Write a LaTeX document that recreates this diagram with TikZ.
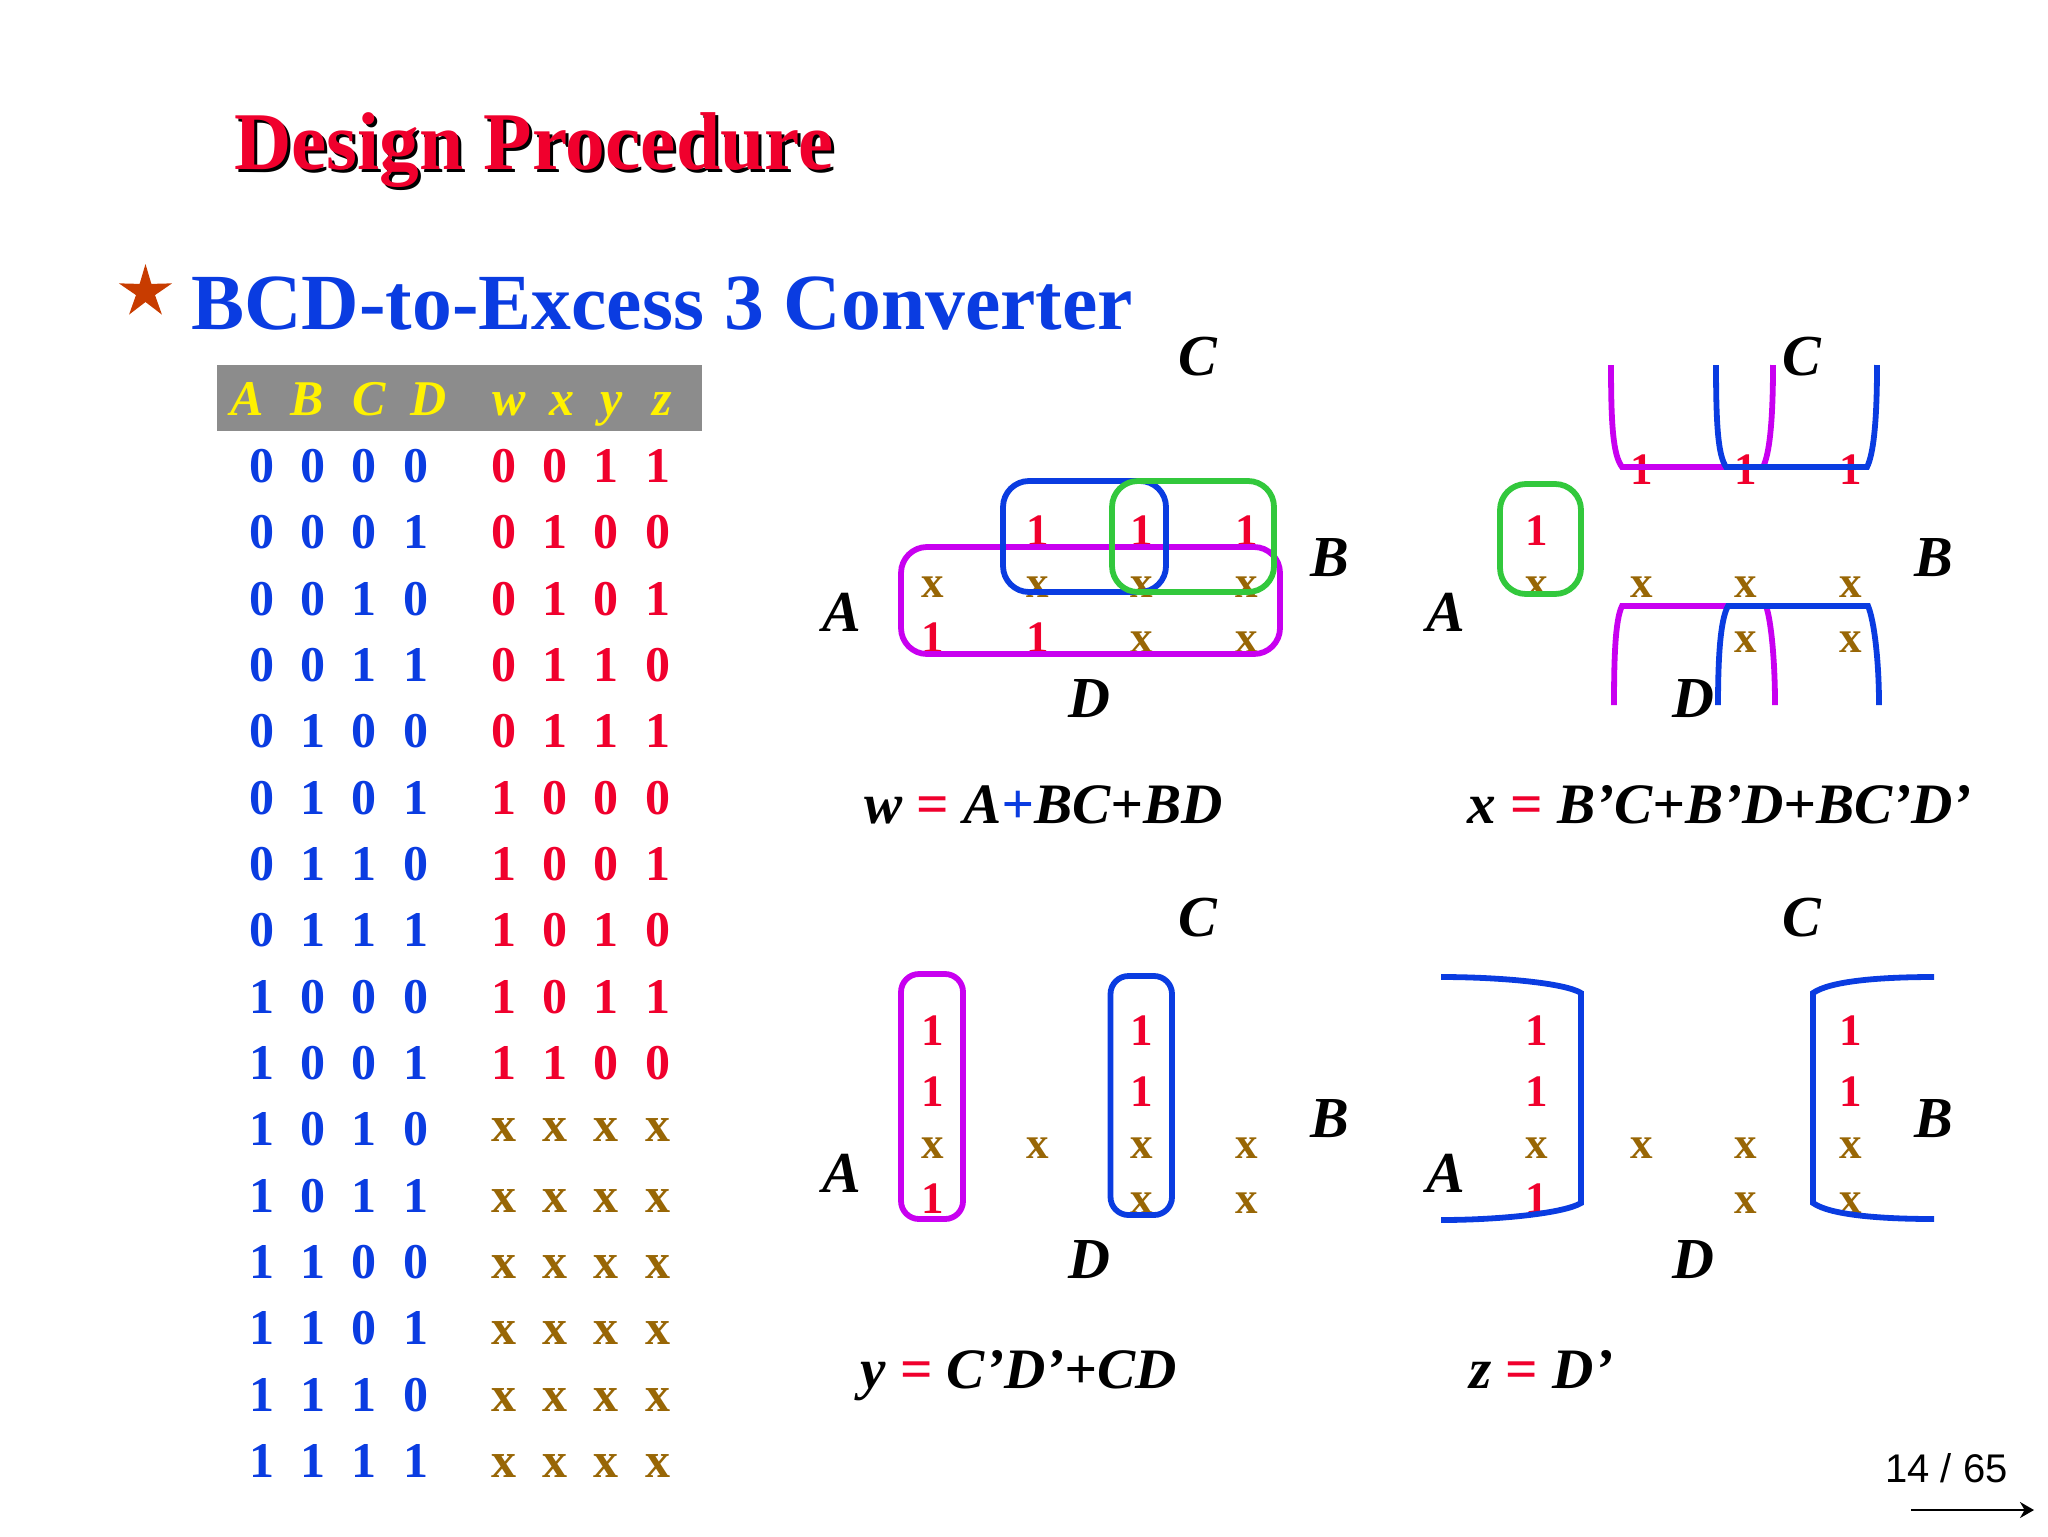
\documentclass[tikz,border=0pt]{standalone}
\usepackage{fontspec}
\setmainfont{Liberation Serif}
\usetikzlibrary{shapes.geometric,arrows.meta}
\definecolor{tblue}{RGB}{10,60,225}
\definecolor{tred}{RGB}{240,0,45}
\definecolor{tbrown}{RGB}{152,102,5}
\definecolor{tpurple}{RGB}{200,0,240}
\definecolor{tgreen}{RGB}{50,200,60}
\definecolor{tgray}{RGB}{140,140,140}
\definecolor{tstar}{RGB}{200,60,0}
\tikzset{
  titletext/.style={anchor=base west,inner sep=0pt,font=\fontsize{41}{50}\selectfont\bfseries},
  headtext/.style={anchor=base west,inner sep=0pt,text=tblue,font=\fontsize{39.8}{48}\selectfont\bfseries},
  colhead/.style={anchor=base,inner sep=0pt,text=yellow,font=\fontsize{25}{30}\selectfont\bfseries\itshape},
  tabletext/.style={anchor=base,inner sep=0pt,font=\fontsize{25}{30}\selectfont\bfseries},
  cell/.style={anchor=base,inner sep=0pt,font=\fontsize{22.5}{27}\selectfont\bfseries},
  varname/.style={inner sep=0pt,font=\fontsize{29}{35}\selectfont\bfseries\itshape},
  eqn/.style={anchor=base west,inner sep=0pt,font=\fontsize{28.6}{34}\selectfont\bfseries\itshape},
  looppath/.style={line width=2.9pt,rounded corners=13pt},
  curvepath/.style={line width=2.9pt},
}
\newcommand{\eqred}{\textcolor{tred}{\upshape =}}
\newcommand{\titlestr}{\scalebox{0.968}[1]{Design Procedure}}
\begin{document}
\begin{tikzpicture}[x=0.5pt,y=-0.5pt]
  \useasboundingbox (0,0) rectangle (2048,1536);
  % title with its shadow
  \node[titletext,text=black] (titleshadow) at (237,172) {\titlestr};
  \node[titletext,text=tred] (title) at (234,169) {\titlestr};
  \node[star,star points=5,star point ratio=2.8,fill=tstar,minimum size=28pt,inner sep=0pt] (bullet) at (145.5,292) {};
  \node[headtext] (heading) at (191,329) {BCD-to-Excess 3 Converter};
  % truth table
  \fill[tgray] (217,365) rectangle (702,431);
  \foreach \n/\cx in {A/247,B/307,C/369,D/429,w/509,x/562,y/612,z/662}
    \node[colhead] (head\n) at (\cx,415) {\n};
  \foreach \a/\b/\c/\d [count=\r from 0] in {0/0/0/0,0/0/0/1,0/0/1/0,0/0/1/1,0/1/0/0,0/1/0/1,0/1/1/0,0/1/1/1,1/0/0/0,1/0/0/1,1/0/1/0,1/0/1/1,1/1/0/0,1/1/0/1,1/1/1/0,1/1/1/1} {
    \pgfmathsetmacro{\ry}{482.5+66.33*\r}
    \node[tabletext,text=tblue] (ina\r) at (262,\ry) {\a};
    \node[tabletext,text=tblue] (inb\r) at (313,\ry) {\b};
    \node[tabletext,text=tblue] (inc\r) at (364,\ry) {\c};
    \node[tabletext,text=tblue] (ind\r) at (416,\ry) {\d};
  }
  \foreach \w/\x/\y/\z [count=\r from 0] in {0/0/1/1,0/1/0/0,0/1/0/1,0/1/1/0,0/1/1/1,1/0/0/0,1/0/0/1,1/0/1/0,1/0/1/1,1/1/0/0} {
    \pgfmathsetmacro{\ry}{482.5+66.33*\r}
    \node[tabletext,text=tred] (outw\r) at (503.5,\ry) {\w};
    \node[tabletext,text=tred] (outx\r) at (555,\ry) {\x};
    \node[tabletext,text=tred] (outy\r) at (606,\ry) {\y};
    \node[tabletext,text=tred] (outz\r) at (658,\ry) {\z};
  }
  \foreach \r/\ry in {10/1141,11/1212,12/1278,13/1344.5,14/1411,15/1477} {
    \node[tabletext,text=tbrown] (outw\r) at (503.5,\ry) {x};
    \node[tabletext,text=tbrown] (outx\r) at (555,\ry) {x};
    \node[tabletext,text=tbrown] (outy\r) at (606,\ry) {x};
    \node[tabletext,text=tbrown] (outz\r) at (658,\ry) {x};
  }
  % the four maps: name/shift x/shift y/ones/dont cares
  \foreach \m/\ox/\oy/\ones/\dcs in {
    w/0/0/{2/2,3/2,4/2,1/4,2/4}/{1/3,2/3,3/3,4/3,3/4,4/4},
    x/604/0/{2/1,3/1,4/1,1/2}/{1/3,2/3,3/3,4/3,3/4,4/4},
    y/0/561/{1/1,1/2,3/1,3/2,1/4}/{1/3,2/3,3/3,4/3,3/4,4/4},
    z/604/561/{1/1,1/2,4/1,4/2,1/4}/{1/3,2/3,3/3,4/3,3/4,4/4}} {
    \node[varname] (\m A) at (842+\ox,612+\oy) {A};
    \node[varname] (\m B) at (1329.5+\ox,558+\oy) {B};
    \node[varname] (\m C) at (1197.5+\ox,357+\oy) {C};
    \node[varname] (\m D) at (1089.5+\ox,699+\oy) {D};
    \foreach \c/\r in \ones {
      \pgfmathsetmacro{\cy}{{484,545,597,652}[\r-1]+\oy}
      \node[cell,text=tred] (\m\c\r) at (933+\ox+104.6*\c-104.6,\cy) {1};
    }
    \foreach \c/\r in \dcs {
      \pgfmathsetmacro{\cy}{{484,545,597,652}[\r-1]+\oy}
      \node[cell,text=tbrown] (\m\c\r) at (933+\ox+104.6*\c-104.6,\cy) {x};
    }
  }
  % w map
  \draw[looppath,tpurple] (901,547) rectangle (1280,654);
  \draw[looppath,tblue] (1003,481) rectangle (1166,592);
  \draw[looppath,tgreen] (1112,481) rectangle (1274,592);
  % x map
  \draw[looppath,tgreen] (1500,484) rectangle (1581,594);
  \draw[curvepath,tpurple] (1611,365) .. controls (1611,425) and (1613,455) .. (1622,467) -- (1763,467) .. controls (1769,455) and (1773,425) .. (1773,365);
  \draw[curvepath,tblue] (1716,365) .. controls (1716,425) and (1718,455) .. (1726,467) -- (1867,467) .. controls (1873,455) and (1877,425) .. (1877,365);
  \draw[curvepath,tpurple] (1614,705) .. controls (1614,660) and (1615,620) .. (1622,606) -- (1766,606) .. controls (1771,620) and (1775,660) .. (1775,705);
  \draw[curvepath,tblue] (1718,705) .. controls (1718,660) and (1720,620) .. (1728,606) -- (1868,606) .. controls (1874,620) and (1879,660) .. (1879,705);
  % y map
  \draw[looppath,tpurple,rounded corners=9pt] (901,974) rectangle (963,1219);
  \draw[looppath,tblue,rounded corners=9pt] (1110.5,976) rectangle (1172,1215);
  % z map
  \draw[curvepath,tblue] (1441,977) .. controls (1500,977) and (1565,983) .. (1581,993) -- (1581,1203) .. controls (1565,1213) and (1500,1220) .. (1441,1220);
  \draw[curvepath,tblue] (1934,977) .. controls (1880,977) and (1830,981) .. (1813,993) -- (1813,1203) .. controls (1830,1215) and (1880,1219) .. (1934,1219);
  % equations
  \node[eqn] (eqw) at (864,823) {w \eqred{} A\textcolor{tblue}{+}BC+BD};
  \node[eqn] (eqx) at (1467,823) {x \eqred{} B’C+B’D+BC’D’};
  \node[eqn] (eqy) at (860,1388) {y \eqred{} C’D’+CD};
  \node[eqn] (eqz) at (1469,1388) {z \eqred{} D’};
  % page number
  \node[anchor=base east,inner sep=0pt,font=\fontsize{20}{24}\selectfont\fontspec{Liberation Sans}] (pageno) at (2008,1482) {14 / 65};
  \coordinate (arrowa) at (1911,1510);
  \coordinate (arrowb) at (2034,1510);
  \draw[-{Stealth[length=7pt,width=8pt]},line width=1.1pt] (arrowa) -- (arrowb);
\end{tikzpicture}
\end{document}
